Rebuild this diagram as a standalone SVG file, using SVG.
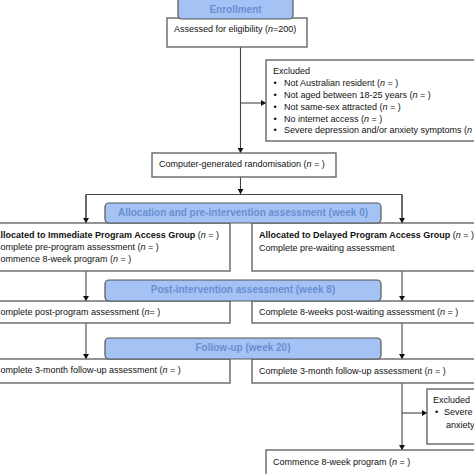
<svg xmlns="http://www.w3.org/2000/svg" width="474" height="474" viewBox="0 0 474 474">
<defs>
<marker id="ah" markerWidth="6" markerHeight="6" refX="5" refY="3" orient="auto" markerUnits="userSpaceOnUse">
<path d="M0,0 L5,3 L0,6 Z" fill="#111"/>
</marker>
<style>
.box{fill:#fff;stroke:#666;stroke-width:1.4}
.hdr{fill:#a4c2f4;stroke:#555;stroke-width:1.2}
.ht{font-family:"Liberation Sans",Arial,sans-serif;font-size:10px;font-weight:bold;fill:#6a8fd0;text-anchor:middle}
.t{font-family:"Liberation Sans",Arial,sans-serif;font-size:9px;fill:#111}
.b{font-weight:bold}
.i{font-style:italic}
.ln{fill:none;stroke:#444;stroke-width:1.1}
.ar{fill:none;stroke:#444;stroke-width:1.1;marker-end:url(#ah)}
</style>
</defs>
<rect width="474" height="474" fill="#fff"/>
<g id="connectors">
<line class="ar" x1="240.5" y1="47" x2="240.5" y2="153"/>
<line class="ar" x1="240.5" y1="103" x2="266" y2="103"/>
<line class="ar" x1="240.5" y1="177" x2="240.5" y2="194"/>
<polyline class="ln" points="86,223 86,194.5 402,194.5 402,223"/>
<line class="ar" x1="86" y1="195" x2="86" y2="223"/>
<line class="ar" x1="402" y1="195" x2="402" y2="223"/>
<line class="ar" x1="86" y1="271" x2="86" y2="301"/>
<line class="ar" x1="402" y1="271" x2="402" y2="301"/>
<line class="ar" x1="86" y1="323" x2="86" y2="359"/>
<line class="ar" x1="402" y1="323" x2="402" y2="359"/>
<line class="ar" x1="402" y1="383" x2="402" y2="450"/>
<line class="ar" x1="402" y1="413" x2="427" y2="413"/>
</g>
<g id="assessed">
<rect class="box" x="167" y="18" width="140" height="29"/>
<text class="t" x="174" y="32">Assessed for eligibility (<tspan class="i">n</tspan>=200)</text>
</g>
<g id="excluded1">
<rect class="box" x="266" y="60" width="214" height="81"/>
<text class="t" x="273" y="74">Excluded</text>
<text class="t" x="273.5" y="86">•</text><text class="t" x="284" y="86">Not Australian resident (<tspan class="i">n</tspan> =  )</text>
<text class="t" x="273.5" y="98">•</text><text class="t" x="284" y="98">Not aged between 18-25 years (<tspan class="i">n</tspan> =  )</text>
<text class="t" x="273.5" y="110">•</text><text class="t" x="284" y="110">Not same-sex attracted (<tspan class="i">n</tspan> =  )</text>
<text class="t" x="273.5" y="122">•</text><text class="t" x="284" y="122">No internet access (<tspan class="i">n</tspan> =  )</text>
<text class="t" x="273.5" y="133">•</text><text class="t" x="284" y="133">Severe depression and/or anxiety symptoms (<tspan class="i">n</tspan> =  )</text>
</g>
<g id="randomisation">
<rect class="box" x="152" y="153" width="184" height="24"/>
<text class="t" x="159" y="167">Computer-generated randomisation (<tspan class="i">n</tspan> =  )</text>
</g>
<g id="immediate">
<rect class="box" x="-10" y="223" width="240" height="48"/>
<text class="t" x="-6" y="238"><tspan class="b">Allocated to Immediate Program Access Group</tspan> (<tspan class="i">n</tspan> =  )</text>
<text class="t" x="-6" y="250">Complete pre-program assessment (<tspan class="i">n</tspan> =  )</text>
<text class="t" x="-6" y="262">Commence 8-week program (<tspan class="i">n</tspan> =  )</text>
</g>
<g id="delayed">
<rect class="box" x="252" y="223" width="240" height="48"/>
<text class="t" x="259" y="238"><tspan class="b">Allocated to Delayed Program Access Group</tspan> (<tspan class="i">n</tspan> =  )</text>
<text class="t" x="259" y="251">Complete pre-waiting assessment</text>
</g>
<g id="post-left">
<rect class="box" x="-10" y="301" width="240" height="22"/>
<text class="t" x="-6" y="315">Complete post-program assessment (<tspan class="i">n</tspan>=  )</text>
</g>
<g id="post-right">
<rect class="box" x="252" y="301" width="240" height="22"/>
<text class="t" x="259" y="315">Complete 8-weeks post-waiting assessment (<tspan class="i">n</tspan> =  )</text>
</g>
<g id="follow-left">
<rect class="box" x="-10" y="359" width="240" height="24"/>
<text class="t" x="-6" y="373">Complete 3-month follow-up assessment (<tspan class="i">n</tspan> =  )</text>
</g>
<g id="follow-right">
<rect class="box" x="252" y="359" width="240" height="24"/>
<text class="t" x="259" y="374">Complete 3-month follow-up assessment (<tspan class="i">n</tspan> =  )</text>
</g>
<g id="excluded2">
<rect class="box" x="427" y="389" width="80" height="55"/>
<text class="t" x="433" y="403">Excluded</text>
<text class="t" x="435" y="415">•</text><text class="t" x="444" y="415">Severe depression and/or</text>
<text class="t" x="446" y="428">anxiety symptoms (<tspan class="i">n</tspan> =  )</text>
</g>
<g id="commence">
<rect class="box" x="266" y="450" width="230" height="30"/>
<text class="t" x="273" y="465">Commence 8-week program (<tspan class="i">n</tspan> =  )</text>
</g>
<g id="hdr-enrollment">
<rect class="hdr" x="178" y="-6" width="115" height="25" rx="4"/>
<text class="ht" x="235.5" y="13">Enrollment</text>
</g>
<g id="hdr-allocation">
<rect class="hdr" x="105" y="203" width="276" height="20" rx="4"/>
<text class="ht" x="243" y="216">Allocation and pre-intervention assessment (week 0)</text>
</g>
<g id="hdr-post">
<rect class="hdr" x="105" y="280" width="276" height="21" rx="4"/>
<text class="ht" x="243" y="293">Post-intervention assessment (week 8)</text>
</g>
<g id="hdr-follow">
<rect class="hdr" x="105" y="338" width="276" height="21" rx="4"/>
<text class="ht" x="243" y="351">Follow-up (week 20)</text>
</g>
</svg>
